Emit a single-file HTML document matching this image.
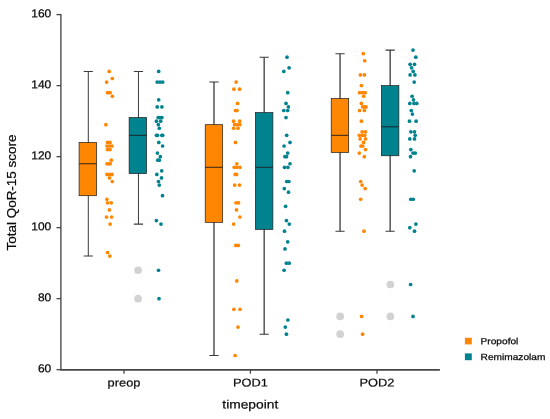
<!DOCTYPE html>
<html lang="en"><head><meta charset="utf-8"><title>Total QoR-15 score by timepoint</title>
<style>html,body{margin:0;padding:0;background:#fff}body{width:550px;height:419px;overflow:hidden}svg{display:block}text{font-family:"Liberation Sans",sans-serif;fill:#0a0a0a;stroke:#0a0a0a}</style>
</head><body>
<svg width="550" height="419" viewBox="0 0 550 419">
<rect width="550" height="419" fill="#ffffff"/>
<g stroke="#464646" stroke-width="1.3" fill="none">
<path d="M60.9 14.10V369.9" stroke-width="1.3" stroke="#3c3c3c"/>
<path d="M60.25 369.9H439.90" stroke-width="1.6"/>
<path d="M56.5 369.70H60.9"/>
<path d="M56.5 298.68H60.9"/>
<path d="M56.5 227.66H60.9"/>
<path d="M56.5 156.64H60.9"/>
<path d="M56.5 85.62H60.9"/>
<path d="M56.5 14.60H60.9"/>
<path d="M124.00 369.7V373.7"/>
<path d="M250.40 369.7V373.7"/>
<path d="M377.00 369.7V373.7"/>
</g>
<text transform="translate(51.20 372.35) rotate(0.05) scale(1.05 1)" font-size="11.4" text-anchor="end" stroke-width="0.25">60</text>
<text transform="translate(51.20 301.33) rotate(0.05) scale(1.05 1)" font-size="11.4" text-anchor="end" stroke-width="0.25">80</text>
<text transform="translate(51.20 230.31) rotate(0.05) scale(1.05 1)" font-size="11.4" text-anchor="end" stroke-width="0.25">100</text>
<text transform="translate(51.20 159.29) rotate(0.05) scale(1.05 1)" font-size="11.4" text-anchor="end" stroke-width="0.25">120</text>
<text transform="translate(51.20 88.27) rotate(0.05) scale(1.05 1)" font-size="11.4" text-anchor="end" stroke-width="0.25">140</text>
<text transform="translate(51.20 17.25) rotate(0.05) scale(1.05 1)" font-size="11.4" text-anchor="end" stroke-width="0.25">160</text>
<text transform="translate(124.00 386.50) rotate(0.05) scale(1.135 1)" font-size="11.3" text-anchor="middle" stroke-width="0.2">preop</text>
<text transform="translate(250.40 386.50) rotate(0.05) scale(1.135 1)" font-size="11.3" text-anchor="middle" stroke-width="0.2">POD1</text>
<text transform="translate(377.00 386.50) rotate(0.05) scale(1.135 1)" font-size="11.3" text-anchor="middle" stroke-width="0.2">POD2</text>
<text transform="translate(250.30 408.60) rotate(0.05) scale(1.14 1)" font-size="12.1" text-anchor="middle" stroke-width="0.22">timepoint</text>
<text transform="translate(15.50 192.50) rotate(-90) scale(1.08 1)" font-size="12.5" text-anchor="middle" stroke-width="0.22">Total QoR-15 score</text>
<g stroke="#3a3a3a" stroke-width="1">
<path d="M88.30 71.42V256.07" fill="none" stroke-width="1.0"/>
<path d="M83.70 71.42h9.2M83.70 256.07h9.2" fill="none" stroke-width="1.05"/>
<rect x="79.08" y="142.44" width="17.45" height="53.27" fill="#ff8600" stroke="#1c1c1c" stroke-width="0.7"/>
<path d="M79.08 163.74h17.45" stroke="#1c1c1c" stroke-width="0.9"/>
</g>
<g stroke="#3a3a3a" stroke-width="1">
<path d="M138.45 71.42V224.11" fill="none" stroke-width="1.0"/>
<path d="M133.85 71.42h9.2M133.85 224.11h9.2" fill="none" stroke-width="1.05"/>
<rect x="129.12" y="117.58" width="17.45" height="55.93" fill="#00838f" stroke="#1c1c1c" stroke-width="0.7"/>
<path d="M129.12 135.33h17.45" stroke="#1c1c1c" stroke-width="0.9"/>
</g>
<circle cx="138.05" cy="270.27" r="3.85" fill="#d2d2d2"/>
<circle cx="138.05" cy="298.68" r="3.85" fill="#d2d2d2"/>
<g stroke="#3a3a3a" stroke-width="1">
<path d="M214.00 82.07V355.50" fill="none" stroke-width="1.3"/>
<path d="M209.40 82.07h9.2M209.40 355.50h9.2" fill="none" stroke-width="1.05"/>
<rect x="205.22" y="124.68" width="17.45" height="97.65" fill="#ff8600" stroke="#1c1c1c" stroke-width="0.7"/>
<path d="M205.22 167.29h17.45" stroke="#1c1c1c" stroke-width="0.9"/>
</g>
<g stroke="#3a3a3a" stroke-width="1">
<path d="M264.17 57.21V334.19" fill="none" stroke-width="1.3"/>
<path d="M259.57 57.21h9.2M259.57 334.19h9.2" fill="none" stroke-width="1.05"/>
<rect x="255.42" y="112.61" width="17.45" height="116.83" fill="#00838f" stroke="#1c1c1c" stroke-width="0.7"/>
<path d="M255.42 167.29h17.45" stroke="#1c1c1c" stroke-width="0.9"/>
</g>
<g stroke="#3a3a3a" stroke-width="1">
<path d="M340.05 53.66V231.21" fill="none" stroke-width="1.3"/>
<path d="M335.45 53.66h9.2M335.45 231.21h9.2" fill="none" stroke-width="1.05"/>
<rect x="331.22" y="98.58" width="17.45" height="53.80" fill="#ff8600" stroke="#1c1c1c" stroke-width="0.7"/>
<path d="M331.22 135.33h17.45" stroke="#1c1c1c" stroke-width="0.9"/>
</g>
<circle cx="340.15" cy="316.44" r="3.85" fill="#d2d2d2"/>
<circle cx="340.15" cy="334.19" r="3.85" fill="#d2d2d2"/>
<g stroke="#3a3a3a" stroke-width="1">
<path d="M390.14 50.11V231.21" fill="none" stroke-width="1.3"/>
<path d="M385.54 50.11h9.2M385.54 231.21h9.2" fill="none" stroke-width="1.05"/>
<rect x="381.42" y="85.62" width="17.45" height="70.13" fill="#00838f" stroke="#1c1c1c" stroke-width="0.7"/>
<path d="M381.42 126.81h17.45" stroke="#1c1c1c" stroke-width="0.9"/>
</g>
<circle cx="390.35" cy="284.48" r="3.85" fill="#d2d2d2"/>
<circle cx="390.35" cy="316.44" r="3.85" fill="#d2d2d2"/>
<g fill="#ff8600">
<circle cx="109.2" cy="71.42" r="1.85"/>
<circle cx="112.3" cy="78.52" r="1.85"/>
<circle cx="106.6" cy="82.07" r="1.85"/>
<circle cx="107.6" cy="92.72" r="1.85"/>
<circle cx="110.1" cy="92.72" r="1.85"/>
<circle cx="112.4" cy="96.27" r="1.85"/>
<circle cx="105.9" cy="124.68" r="1.85"/>
<circle cx="107.5" cy="142.44" r="1.85"/>
<circle cx="110.0" cy="142.44" r="1.85"/>
<circle cx="107.0" cy="145.99" r="1.85"/>
<circle cx="109.5" cy="145.99" r="1.85"/>
<circle cx="112.0" cy="145.99" r="1.85"/>
<circle cx="107.5" cy="149.54" r="1.85"/>
<circle cx="110.0" cy="149.54" r="1.85"/>
<circle cx="111.3" cy="160.19" r="1.85"/>
<circle cx="107.0" cy="163.74" r="1.85"/>
<circle cx="108.7" cy="163.74" r="1.85"/>
<circle cx="110.3" cy="163.74" r="1.85"/>
<circle cx="107.0" cy="174.39" r="1.85"/>
<circle cx="109.5" cy="174.39" r="1.85"/>
<circle cx="112.0" cy="174.39" r="1.85"/>
<circle cx="109.5" cy="177.95" r="1.85"/>
<circle cx="112.3" cy="181.50" r="1.85"/>
<circle cx="106.9" cy="199.25" r="1.85"/>
<circle cx="107.6" cy="202.80" r="1.85"/>
<circle cx="111.2" cy="202.80" r="1.85"/>
<circle cx="109.4" cy="209.90" r="1.85"/>
<circle cx="106.5" cy="217.01" r="1.85"/>
<circle cx="111.6" cy="217.01" r="1.85"/>
<circle cx="110.1" cy="224.11" r="1.85"/>
<circle cx="107.6" cy="252.52" r="1.85"/>
<circle cx="109.8" cy="256.07" r="1.85"/>
</g>
<g fill="#00838f">
<circle cx="158.7" cy="71.42" r="1.85"/>
<circle cx="157.2" cy="82.07" r="1.85"/>
<circle cx="160.0" cy="82.07" r="1.85"/>
<circle cx="162.7" cy="82.07" r="1.85"/>
<circle cx="158.7" cy="99.82" r="1.85"/>
<circle cx="157.2" cy="106.93" r="1.85"/>
<circle cx="161.9" cy="106.93" r="1.85"/>
<circle cx="158.2" cy="117.58" r="1.85"/>
<circle cx="160.0" cy="117.58" r="1.85"/>
<circle cx="161.9" cy="117.58" r="1.85"/>
<circle cx="156.4" cy="121.13" r="1.85"/>
<circle cx="160.7" cy="121.13" r="1.85"/>
<circle cx="158.3" cy="124.68" r="1.85"/>
<circle cx="159.3" cy="128.23" r="1.85"/>
<circle cx="156.5" cy="135.33" r="1.85"/>
<circle cx="157.5" cy="135.33" r="1.85"/>
<circle cx="161.8" cy="135.33" r="1.85"/>
<circle cx="162.7" cy="135.33" r="1.85"/>
<circle cx="158.8" cy="142.44" r="1.85"/>
<circle cx="162.6" cy="145.99" r="1.85"/>
<circle cx="157.4" cy="153.09" r="1.85"/>
<circle cx="160.3" cy="156.64" r="1.85"/>
<circle cx="157.8" cy="160.19" r="1.85"/>
<circle cx="159.3" cy="160.19" r="1.85"/>
<circle cx="161.7" cy="170.84" r="1.85"/>
<circle cx="156.8" cy="174.39" r="1.85"/>
<circle cx="161.5" cy="177.95" r="1.85"/>
<circle cx="158.5" cy="181.50" r="1.85"/>
<circle cx="159.3" cy="185.05" r="1.85"/>
<circle cx="162.5" cy="195.70" r="1.85"/>
<circle cx="156.4" cy="220.56" r="1.85"/>
<circle cx="161.0" cy="224.11" r="1.85"/>
<circle cx="158.5" cy="270.27" r="1.85"/>
<circle cx="159.0" cy="298.68" r="1.85"/>
</g>
<g fill="#ff8600">
<circle cx="236.1" cy="82.07" r="1.85"/>
<circle cx="233.9" cy="89.17" r="1.85"/>
<circle cx="239.6" cy="89.17" r="1.85"/>
<circle cx="237.6" cy="103.38" r="1.85"/>
<circle cx="235.5" cy="110.48" r="1.85"/>
<circle cx="237.0" cy="110.48" r="1.85"/>
<circle cx="233.6" cy="121.13" r="1.85"/>
<circle cx="239.7" cy="121.13" r="1.85"/>
<circle cx="234.6" cy="124.68" r="1.85"/>
<circle cx="237.2" cy="124.68" r="1.85"/>
<circle cx="239.9" cy="124.68" r="1.85"/>
<circle cx="233.6" cy="128.23" r="1.85"/>
<circle cx="238.0" cy="128.23" r="1.85"/>
<circle cx="235.5" cy="142.44" r="1.85"/>
<circle cx="236.8" cy="163.74" r="1.85"/>
<circle cx="234.2" cy="167.29" r="1.85"/>
<circle cx="237.0" cy="167.29" r="1.85"/>
<circle cx="240.0" cy="167.29" r="1.85"/>
<circle cx="235.2" cy="174.39" r="1.85"/>
<circle cx="236.6" cy="174.39" r="1.85"/>
<circle cx="234.7" cy="185.05" r="1.85"/>
<circle cx="239.5" cy="185.05" r="1.85"/>
<circle cx="236.0" cy="202.80" r="1.85"/>
<circle cx="238.5" cy="202.80" r="1.85"/>
<circle cx="236.5" cy="209.90" r="1.85"/>
<circle cx="239.9" cy="217.01" r="1.85"/>
<circle cx="233.6" cy="224.11" r="1.85"/>
<circle cx="235.8" cy="245.41" r="1.85"/>
<circle cx="238.3" cy="245.41" r="1.85"/>
<circle cx="236.8" cy="280.92" r="1.85"/>
<circle cx="233.9" cy="309.33" r="1.85"/>
<circle cx="240.0" cy="309.33" r="1.85"/>
<circle cx="238.0" cy="327.09" r="1.85"/>
<circle cx="235.1" cy="355.50" r="1.85"/>
</g>
<g fill="#00838f">
<circle cx="287.0" cy="57.21" r="1.85"/>
<circle cx="289.1" cy="67.86" r="1.85"/>
<circle cx="283.8" cy="71.42" r="1.85"/>
<circle cx="287.7" cy="92.72" r="1.85"/>
<circle cx="286.0" cy="103.38" r="1.85"/>
<circle cx="288.4" cy="106.93" r="1.85"/>
<circle cx="283.8" cy="110.48" r="1.85"/>
<circle cx="287.7" cy="110.48" r="1.85"/>
<circle cx="286.0" cy="117.58" r="1.85"/>
<circle cx="286.7" cy="135.33" r="1.85"/>
<circle cx="290.0" cy="142.44" r="1.85"/>
<circle cx="284.1" cy="145.99" r="1.85"/>
<circle cx="287.7" cy="153.09" r="1.85"/>
<circle cx="284.9" cy="156.64" r="1.85"/>
<circle cx="286.5" cy="156.64" r="1.85"/>
<circle cx="290.0" cy="163.74" r="1.85"/>
<circle cx="284.5" cy="167.29" r="1.85"/>
<circle cx="287.9" cy="167.29" r="1.85"/>
<circle cx="286.7" cy="181.50" r="1.85"/>
<circle cx="288.9" cy="181.50" r="1.85"/>
<circle cx="284.3" cy="188.60" r="1.85"/>
<circle cx="288.5" cy="192.15" r="1.85"/>
<circle cx="285.6" cy="206.35" r="1.85"/>
<circle cx="286.4" cy="220.56" r="1.85"/>
<circle cx="289.3" cy="224.11" r="1.85"/>
<circle cx="284.5" cy="231.21" r="1.85"/>
<circle cx="287.7" cy="241.86" r="1.85"/>
<circle cx="285.0" cy="248.97" r="1.85"/>
<circle cx="286.4" cy="263.17" r="1.85"/>
<circle cx="289.2" cy="263.17" r="1.85"/>
<circle cx="284.1" cy="270.27" r="1.85"/>
<circle cx="287.9" cy="319.99" r="1.85"/>
<circle cx="285.3" cy="327.09" r="1.85"/>
<circle cx="286.4" cy="334.19" r="1.85"/>
</g>
<g fill="#ff8600">
<circle cx="363.3" cy="53.66" r="1.85"/>
<circle cx="364.7" cy="60.76" r="1.85"/>
<circle cx="360.4" cy="74.97" r="1.85"/>
<circle cx="364.4" cy="74.97" r="1.85"/>
<circle cx="361.4" cy="85.62" r="1.85"/>
<circle cx="359.6" cy="92.72" r="1.85"/>
<circle cx="362.5" cy="92.72" r="1.85"/>
<circle cx="365.2" cy="92.72" r="1.85"/>
<circle cx="363.7" cy="96.27" r="1.85"/>
<circle cx="361.4" cy="103.38" r="1.85"/>
<circle cx="362.7" cy="106.93" r="1.85"/>
<circle cx="364.4" cy="106.93" r="1.85"/>
<circle cx="366.0" cy="106.93" r="1.85"/>
<circle cx="359.6" cy="110.48" r="1.85"/>
<circle cx="364.4" cy="110.48" r="1.85"/>
<circle cx="361.4" cy="121.13" r="1.85"/>
<circle cx="362.1" cy="131.78" r="1.85"/>
<circle cx="365.5" cy="131.78" r="1.85"/>
<circle cx="359.3" cy="135.33" r="1.85"/>
<circle cx="362.1" cy="135.33" r="1.85"/>
<circle cx="364.7" cy="135.33" r="1.85"/>
<circle cx="360.1" cy="138.88" r="1.85"/>
<circle cx="365.5" cy="138.88" r="1.85"/>
<circle cx="363.6" cy="142.44" r="1.85"/>
<circle cx="361.0" cy="145.99" r="1.85"/>
<circle cx="362.8" cy="145.99" r="1.85"/>
<circle cx="365.5" cy="149.54" r="1.85"/>
<circle cx="359.3" cy="153.09" r="1.85"/>
<circle cx="364.3" cy="156.64" r="1.85"/>
<circle cx="360.7" cy="181.50" r="1.85"/>
<circle cx="362.1" cy="185.05" r="1.85"/>
<circle cx="365.2" cy="188.60" r="1.85"/>
<circle cx="360.7" cy="199.25" r="1.85"/>
<circle cx="364.0" cy="231.21" r="1.85"/>
<circle cx="361.6" cy="316.44" r="1.85"/>
<circle cx="362.6" cy="334.19" r="1.85"/>
</g>
<g fill="#00838f">
<circle cx="413.0" cy="50.11" r="1.85"/>
<circle cx="415.8" cy="57.21" r="1.85"/>
<circle cx="410.1" cy="64.31" r="1.85"/>
<circle cx="414.5" cy="64.31" r="1.85"/>
<circle cx="411.6" cy="67.86" r="1.85"/>
<circle cx="413.2" cy="71.42" r="1.85"/>
<circle cx="410.1" cy="74.97" r="1.85"/>
<circle cx="414.9" cy="74.97" r="1.85"/>
<circle cx="414.2" cy="82.07" r="1.85"/>
<circle cx="412.1" cy="96.27" r="1.85"/>
<circle cx="413.5" cy="99.82" r="1.85"/>
<circle cx="409.8" cy="103.38" r="1.85"/>
<circle cx="414.0" cy="103.38" r="1.85"/>
<circle cx="416.8" cy="103.38" r="1.85"/>
<circle cx="411.3" cy="110.48" r="1.85"/>
<circle cx="412.4" cy="114.03" r="1.85"/>
<circle cx="409.5" cy="121.13" r="1.85"/>
<circle cx="416.1" cy="121.13" r="1.85"/>
<circle cx="410.9" cy="131.78" r="1.85"/>
<circle cx="414.5" cy="131.78" r="1.85"/>
<circle cx="415.2" cy="135.33" r="1.85"/>
<circle cx="409.8" cy="138.88" r="1.85"/>
<circle cx="414.5" cy="138.88" r="1.85"/>
<circle cx="410.8" cy="149.54" r="1.85"/>
<circle cx="413.0" cy="153.09" r="1.85"/>
<circle cx="415.3" cy="153.09" r="1.85"/>
<circle cx="410.5" cy="156.64" r="1.85"/>
<circle cx="414.2" cy="170.84" r="1.85"/>
<circle cx="410.8" cy="199.25" r="1.85"/>
<circle cx="413.2" cy="199.25" r="1.85"/>
<circle cx="415.9" cy="224.11" r="1.85"/>
<circle cx="409.8" cy="227.66" r="1.85"/>
<circle cx="414.5" cy="231.21" r="1.85"/>
<circle cx="410.6" cy="284.48" r="1.85"/>
<circle cx="413.0" cy="316.44" r="1.85"/>
</g>
<rect x="464.9" y="337.8" width="6.9" height="6.6" fill="#ff8600"/>
<rect x="464.9" y="353.4" width="6.9" height="6.8" fill="#00838f"/>
<text transform="translate(480.60 344.30) rotate(0.05) scale(1.14 1)" font-size="8.9" text-anchor="start" stroke-width="0.25">Propofol</text>
<text transform="translate(480.60 359.90) rotate(0.05) scale(1.14 1)" font-size="8.9" text-anchor="start" stroke-width="0.25">Remimazolam</text>
</svg></body></html>
